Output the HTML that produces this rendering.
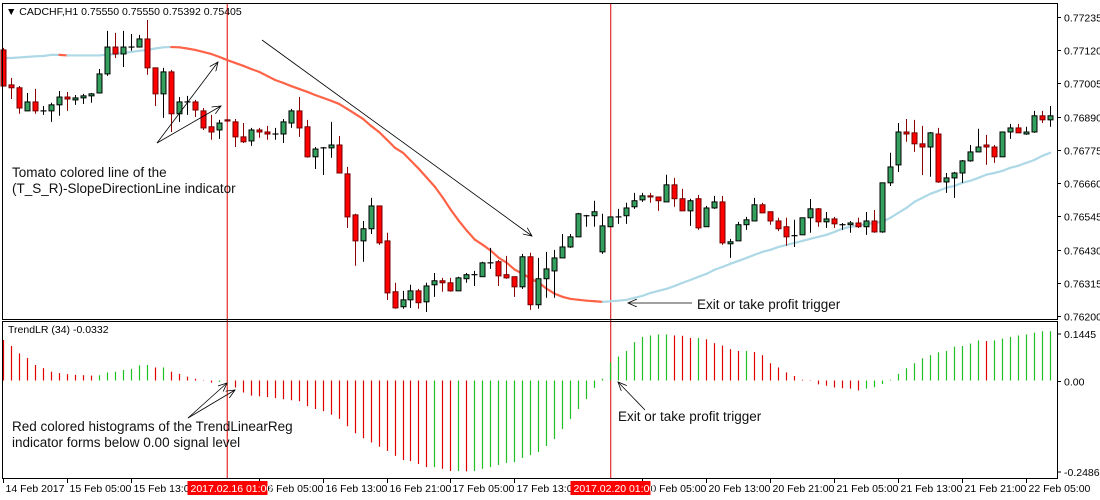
<!DOCTYPE html>
<html><head><meta charset="utf-8">
<style>
html,body{margin:0;padding:0;background:#fff;}
svg{display:block;font-family:"Liberation Sans",sans-serif;}
</style></head>
<body>
<svg id="chart" width="1100" height="500" viewBox="0 0 1100 500" xmlns="http://www.w3.org/2000/svg">
<rect x="0" y="0" width="1100" height="500" fill="#fff"/>
<g id="grid"></g>
<g id="slope"></g>
<g id="candles"></g>
<g id="hist"></g>
<g id="axes"></g>
<g id="annot"></g>
</svg>
<script>
const opens=[0.77121,0.77000,0.76990,0.76910,0.76941,0.76913,0.76910,0.76931,0.76958,0.76948,0.76955,0.76962,0.76972,0.77038,0.77131,0.77107,0.77131,0.77131,0.77159,0.77059,0.76969,0.77045,0.76900,0.76941,0.76941,0.76910,0.76855,0.76844,0.76879,0.76872,0.76820,0.76806,0.76844,0.76837,0.76830,0.76830,0.76868,0.76910,0.76855,0.76751,0.76782,0.76782,0.76792,0.76692,0.76550,0.76460,0.76502,0.76581,0.76460,0.76284,0.76232,0.76256,0.76287,0.76249,0.76308,0.76322,0.76315,0.76287,0.76329,0.76343,0.76336,0.76384,0.76388,0.76343,0.76336,0.76301,0.76405,0.76239,0.76329,0.76356,0.76401,0.76439,0.76474,0.76550,0.76547,0.76422,0.76509,0.76543,0.76547,0.76578,0.76602,0.76616,0.76612,0.76595,0.76654,0.76606,0.76564,0.76606,0.76509,0.76574,0.76595,0.76450,0.76460,0.76516,0.76529,0.76585,0.76561,0.76529,0.76509,0.76478,0.76481,0.76540,0.76571,0.76526,0.76536,0.76516,0.76516,0.76522,0.76509,0.76529,0.76491,0.76661,0.76723,0.76837,0.76834,0.76796,0.76785,0.76830,0.76664,0.76678,0.76695,0.76737,0.76768,0.76792,0.76785,0.76751,0.76837,0.76851,0.76830,0.76837,0.76893,0.76879];
const highs=[0.77128,0.77024,0.76996,0.76972,0.76986,0.76927,0.76938,0.76979,0.76976,0.76965,0.76969,0.76972,0.77055,0.77187,0.77180,0.77187,0.77176,0.77173,0.77225,0.77059,0.77059,0.77052,0.76958,0.76962,0.76948,0.76920,0.76896,0.76879,0.76882,0.76882,0.76868,0.76851,0.76851,0.76858,0.76851,0.76882,0.76917,0.76958,0.76879,0.76785,0.76785,0.76872,0.76823,0.76716,0.76554,0.76529,0.76609,0.76581,0.76488,0.76315,0.76287,0.76308,0.76294,0.76315,0.76349,0.76332,0.76332,0.76336,0.76349,0.76356,0.76388,0.76436,0.76394,0.76408,0.76336,0.76415,0.76419,0.76401,0.76422,0.76429,0.76484,0.76484,0.76557,0.76550,0.76599,0.76554,0.76543,0.76571,0.76592,0.76626,0.76626,0.76626,0.76612,0.76689,0.76678,0.76640,0.76606,0.76619,0.76581,0.76616,0.76616,0.76467,0.76526,0.76543,0.76609,0.76592,0.76561,0.76540,0.76540,0.76533,0.76540,0.76605,0.76574,0.76560,0.76543,0.76522,0.76529,0.76540,0.76560,0.76567,0.76661,0.76765,0.76868,0.76882,0.76879,0.76858,0.76837,0.76851,0.76695,0.76699,0.76740,0.76792,0.76848,0.76827,0.76792,0.76837,0.76865,0.76865,0.76855,0.76910,0.76910,0.76927];
const lows=[0.76996,0.76951,0.76900,0.76910,0.76900,0.76896,0.76872,0.76893,0.76910,0.76931,0.76934,0.76938,0.76972,0.77031,0.77093,0.77062,0.77118,0.77131,0.77035,0.76927,0.76886,0.76837,0.76872,0.76896,0.76889,0.76844,0.76810,0.76813,0.76872,0.76785,0.76799,0.76789,0.76817,0.76810,0.76810,0.76799,0.76851,0.76820,0.76748,0.76709,0.76688,0.76748,0.76695,0.76505,0.76374,0.76388,0.76484,0.76446,0.76256,0.76225,0.76225,0.76228,0.76225,0.76214,0.76266,0.76284,0.76284,0.76287,0.76315,0.76304,0.76336,0.76363,0.76304,0.76329,0.76266,0.76294,0.76221,0.76225,0.76263,0.76263,0.76401,0.76436,0.76474,0.76509,0.76509,0.76415,0.76509,0.76519,0.76519,0.76571,0.76595,0.76592,0.76564,0.76595,0.76578,0.76564,0.76512,0.76498,0.76509,0.76571,0.76446,0.76401,0.76460,0.76498,0.76529,0.76557,0.76516,0.76494,0.76443,0.76439,0.76481,0.76488,0.76509,0.76505,0.76505,0.76498,0.76488,0.76505,0.76481,0.76488,0.76488,0.76650,0.76699,0.76803,0.76768,0.76688,0.76682,0.76661,0.76626,0.76609,0.76661,0.76734,0.76768,0.76723,0.76730,0.76751,0.76813,0.76834,0.76827,0.76834,0.76868,0.76855];
const closes=[0.76996,0.76990,0.76920,0.76941,0.76910,0.76910,0.76931,0.76958,0.76951,0.76955,0.76962,0.76969,0.77038,0.77131,0.77107,0.77131,0.77131,0.77159,0.77059,0.76969,0.77045,0.76900,0.76941,0.76941,0.76913,0.76851,0.76837,0.76868,0.76875,0.76820,0.76803,0.76844,0.76837,0.76830,0.76830,0.76872,0.76910,0.76851,0.76751,0.76778,0.76782,0.76792,0.76695,0.76543,0.76460,0.76502,0.76581,0.76453,0.76280,0.76228,0.76256,0.76287,0.76246,0.76304,0.76322,0.76315,0.76287,0.76332,0.76343,0.76343,0.76384,0.76384,0.76339,0.76332,0.76301,0.76405,0.76239,0.76329,0.76363,0.76401,0.76439,0.76474,0.76554,0.76547,0.76561,0.76512,0.76543,0.76543,0.76574,0.76599,0.76616,0.76612,0.76599,0.76654,0.76606,0.76564,0.76599,0.76505,0.76574,0.76595,0.76453,0.76457,0.76516,0.76533,0.76585,0.76557,0.76529,0.76502,0.76474,0.76478,0.76540,0.76571,0.76526,0.76536,0.76519,0.76516,0.76522,0.76509,0.76529,0.76491,0.76661,0.76716,0.76837,0.76830,0.76796,0.76785,0.76834,0.76664,0.76678,0.76695,0.76737,0.76768,0.76785,0.76785,0.76751,0.76837,0.76851,0.76834,0.76837,0.76893,0.76879,0.76893];
const slopeLine=[0.77093,0.77093,0.77095,0.77097,0.77099,0.77100,0.77104,0.77104,0.77102,0.77102,0.77102,0.77102,0.77102,0.77105,0.77107,0.77111,0.77114,0.77118,0.77121,0.77126,0.77130,0.77131,0.77130,0.77126,0.77121,0.77114,0.77107,0.77097,0.77086,0.77076,0.77066,0.77055,0.77045,0.77031,0.77017,0.77007,0.76996,0.76986,0.76976,0.76965,0.76955,0.76945,0.76934,0.76917,0.76900,0.76882,0.76858,0.76837,0.76810,0.76782,0.76765,0.76737,0.76709,0.76678,0.76647,0.76609,0.76567,0.76529,0.76495,0.76464,0.76446,0.76426,0.76401,0.76384,0.76360,0.76346,0.76329,0.76315,0.76294,0.76277,0.76266,0.76259,0.76256,0.76253,0.76251,0.76249,0.76251,0.76253,0.76256,0.76263,0.76270,0.76280,0.76287,0.76294,0.76304,0.76315,0.76325,0.76336,0.76346,0.76360,0.76370,0.76381,0.76391,0.76401,0.76412,0.76422,0.76429,0.76439,0.76446,0.76453,0.76460,0.76467,0.76474,0.76481,0.76491,0.76502,0.76509,0.76512,0.76519,0.76522,0.76526,0.76540,0.76557,0.76574,0.76595,0.76609,0.76623,0.76633,0.76644,0.76650,0.76661,0.76668,0.76678,0.76689,0.76695,0.76702,0.76713,0.76720,0.76730,0.76740,0.76754,0.76765];
const trendLR=[0.115,0.098,0.077,0.064,0.044,0.035,0.025,0.021,0.018,0.016,0.015,0.014,0.015,0.023,0.025,0.030,0.033,0.043,0.044,0.037,0.037,0.025,0.019,0.011,0.005,0.001,-0.006,-0.004,0,-0.020,-0.034,-0.043,-0.045,-0.047,-0.050,-0.053,-0.056,-0.059,-0.073,-0.081,-0.087,-0.097,-0.109,-0.130,-0.150,-0.164,-0.176,-0.188,-0.200,-0.214,-0.226,-0.229,-0.237,-0.246,-0.246,-0.251,-0.257,-0.257,-0.258,-0.257,-0.251,-0.246,-0.240,-0.234,-0.232,-0.220,-0.212,-0.203,-0.186,-0.166,-0.138,-0.109,-0.081,-0.053,-0.021,0.005,0.051,0.068,0.084,0.109,0.124,0.128,0.131,0.131,0.128,0.127,0.121,0.121,0.117,0.106,0.099,0.089,0.084,0.084,0.081,0.072,0.049,0.037,0.023,0.013,0.002,0.001,-0.011,-0.015,-0.020,-0.022,-0.023,-0.028,-0.023,-0.019,-0.010,0.002,0.019,0.035,0.049,0.063,0.072,0.080,0.084,0.096,0.098,0.105,0.114,0.112,0.114,0.119,0.124,0.128,0.131,0.136,0.140,0.140];
const priceTicks=[0.77235,0.77120,0.77005,0.76890,0.76775,0.76660,0.76545,0.76430,0.76315,0.76200];
const histTicks=[0.1445,0.00,-0.2486];
const timeLabels=["14 Feb 2017","15 Feb 05:00","15 Feb 13:00","16 Feb 05:00","16 Feb 13:00","16 Feb 21:00","17 Feb 05:00","17 Feb 13:00","20 Feb 05:00","20 Feb 13:00","20 Feb 21:00","21 Feb 05:00","21 Feb 13:00","21 Feb 21:00","22 Feb 05:00"];
const timeLabelBars=[0,8,16,32,40,48,56,64,80,88,96,104,112,120,128];
const cursorLabels=["2017.02.16 01:00","2017.02.20 01:00"];
const markerBars=[28,76];

const NS="http://www.w3.org/2000/svg";
const P_TOP=0.77235,P_BOT=0.76200,Y_TOP=17,Y_BOT=316;
function xB(i){return 3+i*7.99;}
function yP(p){return Y_TOP+(P_TOP-p)/(P_TOP-P_BOT)*(Y_BOT-Y_TOP);}
function yH(v){return 380.5-v*352;}
function mk(tag,attrs,parent){const e=document.createElementNS(NS,tag);for(const k in attrs)e.setAttribute(k,attrs[k]);parent.appendChild(e);return e;}
const G=id=>document.getElementById(id);

const ax=G('axes');
let f=mk('rect',{x:2.5,y:3.5,width:1055,height:316,fill:'none',stroke:'#000','stroke-width':1},ax);


f=mk('rect',{x:2.5,y:321.5,width:1055,height:157,fill:'none',stroke:'#000','stroke-width':1},ax);



markerBars.forEach(b=>{
  const l=mk('line',{x1:xB(b)+0.5,x2:xB(b)+0.5,y1:4,y2:478,stroke:'#e00000','stroke-width':1},G('grid'));
  
  
});

for(let i=1;i<slopeLine.length;i++){
  const up=slopeLine[i]>=slopeLine[i-1];
  const s=mk('line',{x1:xB(i-1)+0.5,y1:yP(slopeLine[i-1]),x2:xB(i)+0.5,y2:yP(slopeLine[i]),stroke:up?'#add8e6':'#ff6347','stroke-width':2.2,'stroke-linecap':'round'},G('slope'));
  
  
}

for(let i=0;i<opens.length;i++){
  const o=opens[i],c=closes[i],h=highs[i],l=lows[i];
  const x=Math.round(xB(i))+0.5;
  const bull=c>o, doji=Math.abs(c-o)<0.00003;
  const g=mk('g',{},G('candles'));
  
  
  mk('line',{x1:x,x2:x,y1:yP(h),y2:yP(l),stroke:(bull||doji)?'#000':'#8b0000','stroke-width':1},g);
  if(doji){
    mk('line',{x1:x-3,x2:x+3,y1:yP(c),y2:yP(c),stroke:'#000','stroke-width':1.2},g);
  }else{
    const t=yP(Math.max(o,c)),b=yP(Math.min(o,c));
    mk('rect',{x:x-2.5,y:t,width:5,height:Math.max(1,b-t),fill:bull?'#33a05e':'#ff0000',stroke:bull?'#000':'#700000','stroke-width':1},g);
  }
}

for(let i=0;i<trendLR.length;i++){
  const v=trendLR[i];
  if(v===0)continue;
  const up=i>0&&v>=trendLR[i-1];
  const x=Math.round(xB(i))+0.5;
  const b=mk('line',{x1:x,x2:x,y1:yH(0),y2:yH(v),stroke:up?'#22c022':'#e00000','stroke-width':1.2},G('hist'));
  
  
}

priceTicks.forEach(p=>{
  const y=Math.round(yP(p))+0.5;
  mk('line',{x1:1057,x2:1061,y1:y,y2:y,stroke:'#000'},ax);
  const t=mk('text',{x:1064,y:y+4,'font-size':10.5,fill:'#000'},ax);
  t.textContent=p.toFixed(5);
  
  
});
histTicks.forEach((v,k)=>{
  const y=k===0?334:(k===2?472:Math.round(yH(v))+0.5);
  mk('line',{x1:1057,x2:1061,y1:y,y2:y,stroke:'#000'},ax);
  const t=mk('text',{x:1064,y:y+4,'font-size':10.5,fill:'#000'},ax);
  t.textContent=(v===0?'0.00':v.toFixed(4));
  
  
});

timeLabels.forEach((s,k)=>{
  const x=Math.round(xB(timeLabelBars[k]))+0.5;
  mk('line',{x1:x,x2:x,y1:479,y2:483,stroke:'#000'},ax);
  const t=mk('text',{x:x+2,y:492,'font-size':10.5,fill:'#000'},ax);
  t.textContent=s;
  
  
});
cursorLabels.forEach((s,k)=>{
  const x=Math.round(xB(markerBars[k]))+0.5;
  const r=mk('rect',{x:x-40,y:481,width:80,height:14,fill:'#ff0000'},ax);
  
  
  const t=mk('text',{x:x-37,y:492,'font-size':10.5,fill:'#fff'},ax);
  t.textContent=s;
  
  
});
</script>
<script>
(function(){
const NS="http://www.w3.org/2000/svg";
const an=document.getElementById('annot');
function mk(tag,attrs){const e=document.createElementNS(NS,tag);for(const k in attrs)e.setAttribute(k,attrs[k]);an.appendChild(e);return e;}
mk('defs',{}).innerHTML='<marker id="ah" markerWidth="10" markerHeight="8" refX="9" refY="4" orient="auto" markerUnits="userSpaceOnUse"><path d="M0,0 L9,4 L0,8" fill="none" stroke="#000" stroke-width="0.8"/></marker>';
const arrows=[[157,143,218,62],[157,143,221,106],[262,40,532,236],[692,303,628,303],[188,418,227,383],[188,418,235,390],[645,410,618,382]];
arrows.forEach(a=>{
  const l=mk('line',{x1:a[0],y1:a[1],x2:a[2],y2:a[3],stroke:'#000','stroke-width':0.8,'marker-end':'url(#ah)'});
  
  
});
const texts=[["Tomato colored line of the",12,177],["(T_S_R)-SlopeDirectionLine indicator",12,193],["Exit or take profit trigger",697,309],["Red colored histograms of the TrendLinearReg",12,431],["indicator forms below 0.00 signal level",12,447],["Exit or take profit trigger",618,421]];
texts.forEach(t=>{
  const e=mk('text',{x:t[1],y:t[2],'font-size':13.5,fill:'#111'});
  e.textContent=t[0];
  
  
});
let h=mk('text',{x:6,y:15,'font-size':10.5,fill:'#000'});
h.textContent='\u25BC CADCHF,H1  0.75550 0.75550 0.75392 0.75405';


h=mk('text',{x:8,y:333,'font-size':10.5,fill:'#000'});
h.textContent='TrendLR (34) -0.0332';


})();
</script>
</body></html>
